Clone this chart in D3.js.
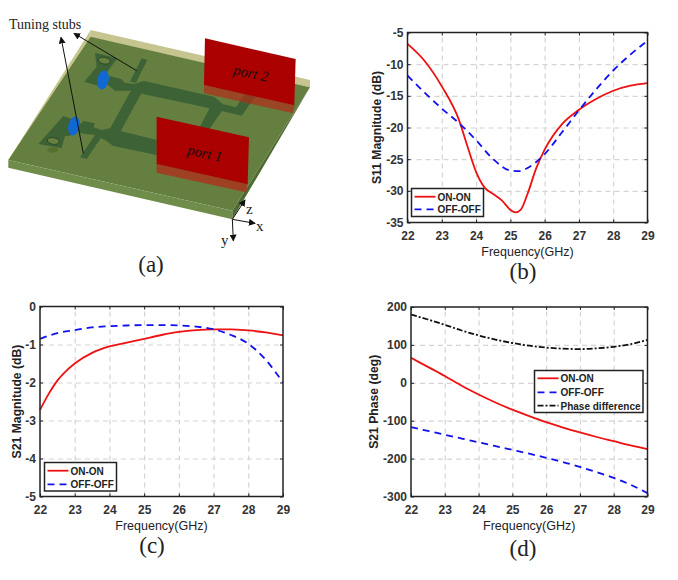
<!DOCTYPE html>
<html>
<head>
<meta charset="utf-8">
<script src="https://cdnjs.cloudflare.com/ajax/libs/d3/7.8.5/d3.min.js"></script>
<style>
body { margin: 0; background: white; }
text { font-family: 'Liberation Sans', sans-serif; fill: #222; }
.serif { font-family: 'Liberation Serif', serif; }
.tick text { font-size: 12px; font-weight: bold; fill: #333; }
.grid line { stroke: #d4d4d4; stroke-width: 1.2; stroke-dasharray: 5 4; }
.grid path { display: none; }
.ticks path { display: none; }
.ticks line { stroke: #222; stroke-width: 1; }
.soft { filter: blur(0.5px); }
</style>
</head>
<body>
<div id="chart"></div>
<script>
// frequency samples (GHz)
let s11Freq = [22, 22.5, 23, 23.5, 23.75, 24, 24.25, 24.5, 24.75, 25, 25.15, 25.3, 25.5, 25.75, 26, 26.5, 27, 27.5, 28, 28.5, 29];
let s11OnOn = [-6.8, -9.5, -13.5, -18.8, -23, -27, -29.5, -30.5, -31.5, -33, -33.4, -33, -30.5, -26.5, -23.5, -19.5, -17.2, -15.5, -14.2, -13.4, -13];
let s11OffFreq = [22, 22.5, 23, 23.5, 24, 24.5, 25, 25.25, 25.5, 26, 26.5, 27, 27.5, 28, 28.5, 29];
let s11OffOff = [-11.8, -14.5, -17, -19.3, -22, -25, -26.8, -26.9, -26.4, -24.2, -20.8, -17.3, -14, -11, -8.5, -6.3];

let s21Freq = [22, 22.25, 22.5, 22.75, 23, 23.5, 24, 24.5, 25, 25.5, 26, 26.5, 27, 27.5, 28, 28.5, 29];
let s21OnOn = [-2.72, -2.3, -1.95, -1.7, -1.5, -1.22, -1.05, -0.95, -0.85, -0.75, -0.67, -0.62, -0.6, -0.6, -0.63, -0.68, -0.76];
let s21OffFreq = [22, 22.5, 23, 23.5, 24, 24.5, 25, 25.5, 26, 26.5, 27, 27.5, 28, 28.5, 29];
let s21OffOff = [-0.85, -0.7, -0.62, -0.55, -0.52, -0.5, -0.49, -0.49, -0.5, -0.53, -0.6, -0.75, -0.98, -1.4, -2];

let phaseFreq = [22, 22.5, 23, 23.5, 24, 24.5, 25, 25.5, 26, 26.5, 27, 27.5, 28, 28.5, 29];
let phaseOnOn = [66, 42, 18, -8, -31, -52, -71, -88, -104, -118, -131, -143, -154, -165, -175];
let phaseOffOff = [-117, -127, -137, -147, -157, -167, -177, -187, -198, -209, -222, -236, -251, -269, -291];
let phaseDiff = [180, 167, 153, 138, 125, 114, 105, 98, 93, 90, 89, 91, 95, 102, 113];

let freqTicks = [22, 23, 24, 25, 26, 27, 28, 29];
let s11Ticks = [-35, -30, -25, -20, -15, -10, -5];
let s21Ticks = [-5, -4, -3, -2, -1, 0];
let phaseTicks = [-300, -200, -100, 0, 100, 200];

let width = 678;
let height = 580;

let svg = d3
    .select('#chart')
    .append('svg')
    .attr('width', width)
    .attr('height', height)
    .style('display', 'block');

let onStyle = { name: 'ON-ON', color: '#ee1111', dash: null, w: 1.8 };
let offStyle = { name: 'OFF-OFF', color: '#1111ee', dash: '7 5', w: 1.8 };
let diffStyle = { name: 'Phase difference', color: '#111', dash: '6 2 2 2', w: 1.8 };

function drawPanel(p) {
    let x = d3.scaleLinear().domain([22, 29]).range([p.left, p.right]);
    let y = d3.scaleLinear().domain(p.yDomain).range([p.bottom, p.top]);
    let h = p.bottom - p.top;
    let w = p.right - p.left;

    svg.append('g')
        .attr('class', 'grid')
        .attr('transform', `translate(0,${p.bottom})`)
        .call(d3.axisBottom(x).tickValues(freqTicks.slice(1, -1)).tickSize(-h).tickFormat(''));
    svg.append('g')
        .attr('class', 'grid')
        .attr('transform', `translate(${p.left},0)`)
        .call(d3.axisLeft(y).tickValues(p.yTicks.slice(1, -1)).tickSize(-w).tickFormat(''));

    // inward ticks on all four sides, matlab style
    let xAxis = svg.append('g')
        .attr('class', 'ticks')
        .attr('transform', `translate(0,${p.bottom})`)
        .call(d3.axisBottom(x).tickValues(freqTicks).tickSize(-3).tickFormat(d3.format('d')));
    xAxis.selectAll('text').attr('y', 9).attr('dy', '0.71em');
    let yAxis = svg.append('g')
        .attr('class', 'ticks')
        .attr('transform', `translate(${p.left},0)`)
        .call(d3.axisLeft(y).tickValues(p.yTicks).tickSize(-3).tickFormat(d => d3.format('d')(d).replace('\u2212', '-')));
    yAxis.selectAll('text').attr('x', -4);
    svg.append('g')
        .attr('class', 'ticks')
        .attr('transform', `translate(0,${p.top})`)
        .call(d3.axisTop(x).tickValues(freqTicks).tickSize(-3).tickFormat(''));
    svg.append('g')
        .attr('class', 'ticks')
        .attr('transform', `translate(${p.right},0)`)
        .call(d3.axisRight(y).tickValues(p.yTicks).tickSize(-3).tickFormat(''));

    let line = d3.line()
        .x(d => x(d[0]))
        .y(d => y(d[1]))
        .curve(d3.curveMonotoneX);

    p.series.forEach(s => {
        svg.append('path')
            .datum(d3.zip(s.xs, s.ys))
            .attr('d', line)
            .attr('fill', 'none')
            .attr('stroke', s.style.color)
            .attr('stroke-width', s.style.w)
            .attr('stroke-dasharray', s.style.dash);
    });

    svg.append('rect')
        .attr('x', p.left)
        .attr('y', p.top)
        .attr('width', w)
        .attr('height', h)
        .attr('fill', 'none')
        .attr('stroke', '#222')
        .attr('stroke-width', 1.5);

    svg.append('text')
        .text('Frequency(GHz)')
        .attr('x', (p.left + p.right) / 2)
        .attr('y', p.bottom + 33.5)
        .attr('text-anchor', 'middle')
        .style('font-size', '12.5px');

    svg.append('text')
        .text(p.yLabel)
        .attr('transform', `translate(${p.yLabelX},${(p.top + p.bottom) / 2})rotate(-90)`)
        .attr('text-anchor', 'middle')
        .style('font-size', '12.2px')
        .style('font-weight', 'bold');

    svg.append('rect')
        .attr('x', p.legend.x)
        .attr('y', p.legend.y)
        .attr('width', p.legend.w)
        .attr('height', p.legend.h)
        .attr('fill', 'white')
        .attr('stroke', '#222')
        .attr('stroke-width', 1.5);

    p.series.forEach((s, i) => {
        let rowY = p.legend.rows[i];
        svg.append('line')
            .attr('x1', p.legend.x + 3)
            .attr('x2', p.legend.x + 24)
            .attr('y1', rowY)
            .attr('y2', rowY)
            .attr('stroke', s.style.color)
            .attr('stroke-width', s.style.w)
            .attr('stroke-dasharray', s.style.dash);
        svg.append('text')
            .text(s.style.name)
            .attr('x', p.legend.x + 26)
            .attr('y', rowY + 4)
            .style('font-size', '10px')
            .style('font-weight', 'bold');
    });

    svg.append('text')
        .attr('class', 'serif')
        .text(p.caption)
        .attr('x', p.captionX)
        .attr('y', p.captionY)
        .attr('text-anchor', 'middle')
        .style('font-size', '23px');
}

drawPanel({
    left: 407.5, right: 647.5, top: 32.5, bottom: 222.5,
    yDomain: [-35, -5], yTicks: s11Ticks, yLabel: 'S11 Magnitude (dB)', yLabelX: 381,
    series: [
        { xs: s11Freq, ys: s11OnOn, style: onStyle },
        { xs: s11OffFreq, ys: s11OffOff, style: offStyle }
    ],
    legend: { x: 411.5, y: 188.5, w: 72, h: 28, rows: [196.7, 209.3] },
    caption: '(b)', captionX: 523, captionY: 279
});

drawPanel({
    left: 40, right: 283, top: 306.5, bottom: 496.5,
    yDomain: [-5, 0], yTicks: s21Ticks, yLabel: 'S21 Magnitude (dB)', yLabelX: 21,
    series: [
        { xs: s21Freq, ys: s21OnOn, style: onStyle },
        { xs: s21OffFreq, ys: s21OffOff, style: offStyle }
    ],
    legend: { x: 44.5, y: 462.5, w: 72, h: 28.5, rows: [470.7, 484.3] },
    caption: '(c)', captionX: 152, captionY: 553
});

drawPanel({
    left: 411, right: 647.5, top: 307, bottom: 496.5,
    yDomain: [-300, 200], yTicks: phaseTicks, yLabel: 'S21 Phase (deg)', yLabelX: 378,
    series: [
        { xs: phaseFreq, ys: phaseOnOn, style: onStyle },
        { xs: phaseFreq, ys: phaseOffOff, style: offStyle },
        { xs: phaseFreq, ys: phaseDiff, style: diffStyle }
    ],
    legend: { x: 534.5, y: 370.5, w: 108.5, h: 42, rows: [378.3, 392.3, 405.7] },
    caption: '(d)', captionX: 523, captionY: 556
});

// panel (a): the circuit board drawing, outlined in 3x pixel units
let board = svg.append('g').attr('class', 'soft').attr('transform', 'scale(0.3333)');

function poly(pts, fill, opacity) {
    board.append('polygon')
        .attr('points', pts.map(d => d.join(',')).join(' '))
        .attr('fill', fill)
        .attr('opacity', opacity === undefined ? 1 : opacity);
}

let beige = '#c6c58f';
let trace = '#3c6235';
let plate = '#657f40';

poly([[272, 90], [930, 240], [930, 262], [272, 112]], beige);
poly([[25, 480], [272, 90], [272, 112], [38, 482]], beige);
poly([[25, 480], [272, 110], [930, 262], [697, 632]], plate);
poly([[25, 480], [697, 632], [697, 658], [25, 503]], '#6f8c4b');
poly([[697, 632], [930, 262], [697, 658]], '#4f6b33');

board.append('ellipse')
    .attr('cx', 158)
    .attr('cy', 450)
    .attr('rx', 16)
    .attr('ry', 8)
    .attr('fill', '#55702f');

// copper traces, one piece at a time
poly([[285, 158], [352, 175], [322, 215], [305, 260], [253, 245], [290, 200]], trace);
poly([[330, 228], [365, 238], [373, 248], [402, 252], [432, 243], [642, 290], [668, 312], [708, 322], [735, 282], [765, 290], [725, 347], [665, 333], [630, 325], [432, 283], [405, 272], [345, 272], [318, 250]], trace);
poly([[395, 268], [428, 272], [362, 394], [330, 386]], trace);
poly([[630, 322], [666, 332], [625, 392], [598, 385]], trace);
poly([[190, 348], [240, 365], [210, 408], [195, 408], [185, 445], [115, 432]], trace);
poly([[250, 363], [285, 370], [280, 382], [305, 390], [330, 385], [362, 393], [470, 420], [470, 465], [340, 438], [315, 420], [285, 405], [240, 400], [228, 385]], trace);
poly([[425, 175], [442, 180], [408, 248], [390, 245]], trace);
poly([[285, 405], [305, 410], [260, 477], [240, 472]], trace);

[[313, 182], [160, 423]].forEach(c => {
    board.append('ellipse')
        .attr('cx', c[0])
        .attr('cy', c[1])
        .attr('rx', 18)
        .attr('ry', 10)
        .attr('transform', `rotate(10,${c[0]},${c[1]})`)
        .attr('fill', plate)
        .attr('stroke', '#1e3a1c')
        .attr('stroke-width', 2);
});

[[309, 240], [222, 378]].forEach(c => {
    board.append('ellipse')
        .attr('cx', c[0])
        .attr('cy', c[1])
        .attr('rx', 17)
        .attr('ry', 29)
        .attr('transform', `rotate(12,${c[0]},${c[1]})`)
        .attr('fill', '#1268d2');
});

poly([[612, 255], [883, 316], [880, 340], [612, 280]], '#b02c18', 0.7);
poly([[615, 115], [887, 177], [883, 316], [612, 255]], '#aa0000');
poly([[470, 492], [743, 553], [738, 577], [470, 518]], '#b02c18', 0.75);
poly([[470, 350], [747, 412], [743, 553], [470, 492]], '#aa0000');

svg.append('defs')
    .append('marker')
    .attr('id', 'head')
    .attr('viewBox', '0 0 8 8')
    .attr('refX', 7)
    .attr('refY', 4)
    .attr('markerWidth', 7)
    .attr('markerHeight', 7)
    .attr('markerUnits', 'userSpaceOnUse')
    .attr('orient', 'auto')
    .append('path')
    .attr('d', 'M0,0L8,4L0,8Z')
    .attr('fill', '#111');

[
    [410, 212, 222, 100],
    [250, 460, 183, 112],
    [697, 658, 735, 600],
    [697, 658, 765, 670],
    [697, 658, 700, 722]
].forEach(a => {
    svg.append('line')
        .attr('x1', a[0] / 3)
        .attr('y1', a[1] / 3)
        .attr('x2', a[2] / 3)
        .attr('y2', a[3] / 3)
        .attr('stroke', '#111')
        .attr('stroke-width', 1)
        .attr('marker-end', 'url(#head)');
});

let boardLabels = [
    { t: 'Tuning stubs', x: 9, y: 29, size: 14 },
    { t: 'z', x: 246, y: 214, size: 15 },
    { t: 'x', x: 256, y: 231, size: 15 },
    { t: 'y', x: 221, y: 245, size: 15 }
];
boardLabels.forEach(d => {
    svg.append('text')
        .attr('class', 'serif')
        .text(d.t)
        .attr('x', d.x)
        .attr('y', d.y)
        .style('font-size', d.size + 'px');
});

[
    { t: 'port 2', x: 250, y: 78 },
    { t: 'port 1', x: 204, y: 158 }
].forEach(d => {
    svg.append('text')
        .attr('class', 'serif')
        .text(d.t)
        .attr('transform', `translate(${d.x},${d.y})rotate(12)`)
        .attr('text-anchor', 'middle')
        .style('font-size', '14.5px')
        .style('font-style', 'italic')
        .style('fill', '#111');
});

svg.append('text')
    .attr('class', 'serif')
    .text('(a)')
    .attr('x', 151)
    .attr('y', 272)
    .attr('text-anchor', 'middle')
    .style('font-size', '23px');
</script>
</body>
</html>
